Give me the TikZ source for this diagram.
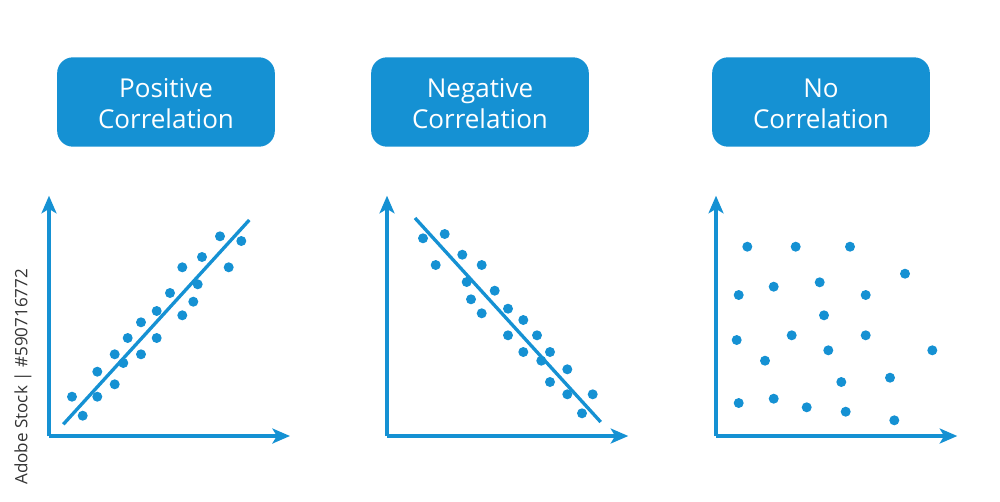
\documentclass[tikz,border=0pt]{standalone}
\usepackage{fontspec}
\setmainfont{Open Sans}
\usetikzlibrary{arrows.meta}
\definecolor{chartblue}{HTML}{1591D3}

\begin{document}
\begin{tikzpicture}[x=.02cm, y=-.02cm,
    title/.style={fill=chartblue, text=white, rounded corners=9pt, minimum width=4.354cm, minimum height=1.788cm, align=center, font=\fontsize{14.8}{17.6}\selectfont},
    axis/.style={draw=chartblue, line width=1.9pt, -{Stealth[length=10pt, width=8.5pt, inset=2.5pt]}},
    trend/.style={draw=chartblue, line width=1.9pt},
    dot/.style={circle, fill=chartblue, inner sep=0pt, minimum size=.2cm}]
  \useasboundingbox (0, 0) rectangle (1000, 501);

  \node[title] (pos) at (166, 102) {\rule{0pt}{12.5pt}Positive\\Correlation};
  \node[title] (neg) at (480, 102) {\rule{0pt}{12.5pt}Negative\\Correlation};
  \node[title] (none) at (821, 102) {\rule{0pt}{12.5pt}No\\Correlation};

  \node[rotate=90, anchor=west, inner sep=0pt, text=black!80, font=\fontsize{9.7}{11}\selectfont] (stock) at (23, 485) {Adobe Stock | \#590716772};

  % positive
  \coordinate (o1) at (49, 436);
  \coordinate (y1) at (49, 195.7);
  \coordinate (x1) at (290, 436);
  \coordinate (a1) at (63.3, 424.3);
  \coordinate (b1) at (249.3, 220);
  \draw[axis] (o1) -- (y1);
  \draw[axis] (o1) -- (x1);
  \draw[trend] (a1) -- (b1);
  \foreach \x/\y [count=\i] in {72/396.7, 82.7/415.7, 97.3/396.7, 97.3/371.7, 114.7/384.3, 114.7/354.3, 123.3/363, 127.7/338, 141/354.3, 141/322.3, 156.7/338, 156.7/311, 170/293, 182.3/315.3, 182.3/267.3, 193.3/301.7, 197.7/284.3, 202/257, 228.7/267.3, 220/236.3, 241.3/241}
    \node[dot] (p\i) at (\x, \y) {};

  % negative
  \coordinate (o2) at (387, 436);
  \coordinate (y2) at (387, 195.7);
  \coordinate (x2) at (628.3, 436);
  \coordinate (a2) at (415, 218);
  \coordinate (b2) at (600.7, 422);
  \draw[axis] (o2) -- (y2);
  \draw[axis] (o2) -- (x2);
  \draw[trend] (a2) -- (b2);
  \foreach \x/\y [count=\i] in {423/238.3, 444.7/234, 435.7/265, 462.3/254.7, 481.7/265, 466.7/282, 494.7/290.7, 471/299.3, 481.7/313.3, 508/308.7, 523.3/320, 508/335.3, 537/335.3, 523.3/352, 550/352, 541.3/360.7, 567.3/369.3, 550/382, 567.3/394.3, 592.7/394.3, 582/413.3}
    \node[dot] (n\i) at (\x, \y) {};

  % none
  \coordinate (o3) at (716, 436);
  \coordinate (y3) at (716, 195.7);
  \coordinate (x3) at (957.3, 436);
  \draw[axis] (o3) -- (y3);
  \draw[axis] (o3) -- (x3);
  \foreach \x/\y [count=\i] in {747.3/246.7, 795.7/246.7, 850/246.7, 905/273.7, 773.7/286.7, 819.7/282.3, 738.7/295, 865.7/295, 824/315.3, 736.7/340, 791.7/335.3, 865.7/335.3, 828.3/350.3, 932.3/350.3, 765/360.7, 841.3/382, 890/377.7, 738.7/403, 773.7/398.7, 806.7/407.3, 845.7/411.7, 894.3/420.3}
    \node[dot] (z\i) at (\x, \y) {};
\end{tikzpicture}
\end{document}
